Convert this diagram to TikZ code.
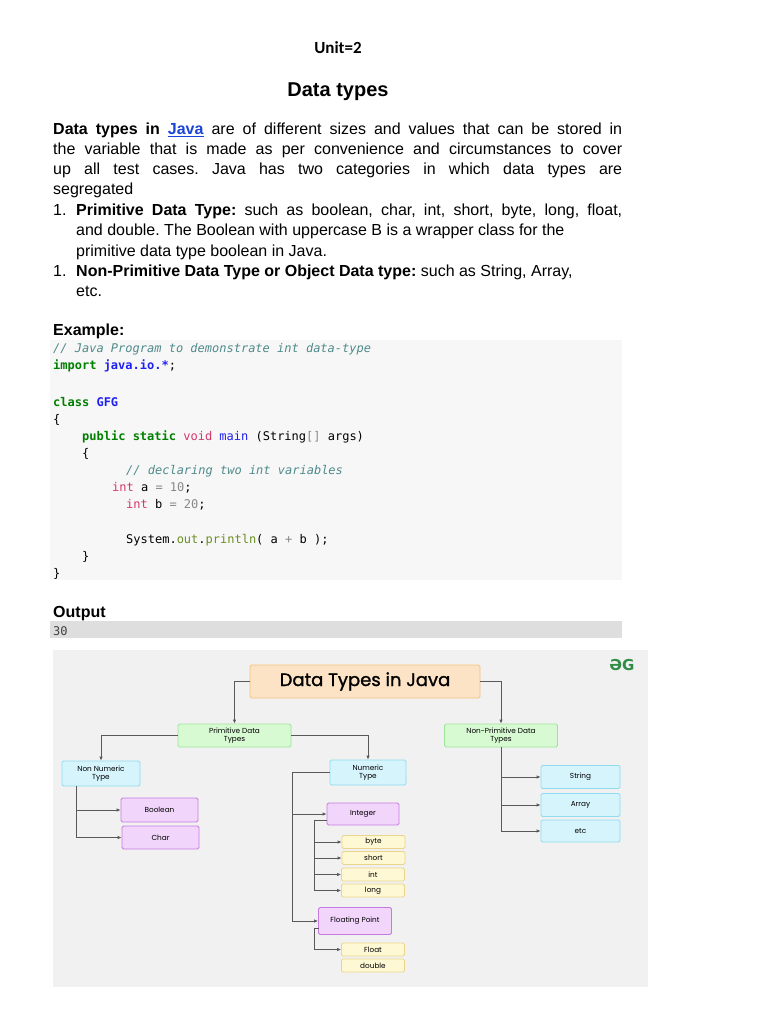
\documentclass[tikz,border=0pt]{standalone}
\usepackage{fontspec}
\setmainfont{Liberation Sans}
\setmonofont{DejaVu Sans Mono}
\newfontfamily\carl{Carlito}
\newfontfamily\pop{Poppins}
\newfontfamily\popt[FakeBold=1.3]{Poppins}
\newfontfamily\djv{DejaVu Sans}
\usetikzlibrary{arrows.meta}
\frenchspacing
\definecolor{cgreen}{HTML}{008000}
\definecolor{cred}{HTML}{D2386C}
\definecolor{cblue}{HTML}{2020F0}
\definecolor{ccom}{HTML}{4F8A8B}
\definecolor{colv}{HTML}{6B8E23}
\definecolor{cnum}{HTML}{888888}
\definecolor{linkblue}{HTML}{1A45D8}
\definecolor{orF}{HTML}{FDE3C6}\definecolor{orD}{HTML}{F4C17E}
\definecolor{grF}{HTML}{D7FAD2}\definecolor{grD}{HTML}{9EE49B}
\definecolor{cyF}{HTML}{D6F4FC}\definecolor{cyD}{HTML}{8FDCF0}
\definecolor{puF}{HTML}{F2D5FB}\definecolor{puD}{HTML}{C57CE0}
\definecolor{yeF}{HTML}{FEF8D4}\definecolor{yeD}{HTML}{EBD58A}
\definecolor{gfg}{HTML}{2F8D46}
\tikzset{
 txt/.style={anchor=base west, inner sep=0pt, font=\fontsize{16}{19}\selectfont},
 code/.style={anchor=base west, inner sep=0pt, font=\fontsize{12}{14}\ttfamily},
 bx/.style={draw, rounded corners=1.5pt, line width=0.8pt, align=center, inner sep=0pt, font=\pop\fontsize{7.3}{8.5}\selectfont},
 obox/.style={bx, fill=orF, draw=orD},
 gbox/.style={bx, fill=grF, draw=grD},
 cbox/.style={bx, fill=cyF, draw=cyD},
 pbox/.style={bx, fill=puF, draw=puD},
 ybox/.style={bx, fill=yeF, draw=yeD},
 conn/.style={draw=black!65, line width=0.8pt},
 arr/.style={conn, -{Latex[length=4pt,width=3.5pt]}},
}
\begin{document}
\begin{tikzpicture}[x=1pt,y=-1pt]
\useasboundingbox[fill=white] (0,0) rectangle (768,1024);
% headings
\node[anchor=base, inner sep=0pt, font=\carl\bfseries\fontsize{17}{20}\selectfont] (unit) at (338,54) {Unit=2};
\node[anchor=base, inner sep=0pt, font=\fontsize{20}{24}\selectfont\bfseries] (dt) at (338,97) {Data types};
% paragraph
\node[txt] (l1) at (53,135) {\makebox[569pt][s]{\textbf{Data types in} \textcolor{linkblue}{\underline{\textbf{Java}}} are of different sizes and values that can be stored in}};
\node[txt] (l2) at (53,155) {\makebox[569pt][s]{the variable that is made as per convenience and circumstances to cover}};
\node[txt] (l3) at (53,175) {\makebox[569pt][s]{up all test cases. Java has two categories in which data types are}};
\node[txt] (l4) at (53,195) {segregated};
\node[txt] (n1) at (53,216) {1.};
\node[txt] (l5) at (76,216) {\makebox[546pt][s]{\textbf{Primitive Data Type:} such as boolean, char, int, short, byte, long, float,}};
\node[txt] (l6) at (76,236) {and double. The Boolean with uppercase B is a wrapper class for the};
\node[txt] (l7) at (76,256) {primitive data type boolean in Java.};
\node[txt] (n2) at (53,276) {1.};
\node[txt] (l8) at (76,276) {\textbf{Non-Primitive Data Type or Object Data type:} such as String, Array,};
\node[txt] (l9) at (76,296) {etc.};
\node[txt, font=\fontsize{16}{19}\selectfont\bfseries] (ex) at (53,335) {Example:};
% code block
\fill[black!3] (50,340) rectangle (622,580);
\node[code] (c1) at (53,352) {\textcolor{ccom}{\itshape // Java Program to demonstrate int data-type}};
\node[code] (c2) at (53,369) {\textcolor{cgreen}{\bfseries import} \textcolor{cblue}{\bfseries java.io.*};};
\node[code] (c3) at (53,406) {\textcolor{cgreen}{\bfseries class} \textcolor{cblue}{\bfseries GFG}};
\node[code] (c4) at (53,423) {\{};
\node[code] (c5) at (82,440) {\textcolor{cgreen}{\bfseries public static} \textcolor{cred}{void} \textcolor{cblue}{main} (String\textcolor{cnum}{[]} args)};
\node[code] (c6) at (82,457) {\{};
\node[code] (c7) at (126,474) {\textcolor{ccom}{\itshape // declaring two int variables}};
\node[code] (c8) at (112,491) {\textcolor{cred}{int} a \textcolor{cnum}{=} \textcolor{cnum}{10};};
\node[code] (c9) at (126,508) {\textcolor{cred}{int} b \textcolor{cnum}{=} \textcolor{cnum}{20};};
\node[code] (c10) at (126,543) {System.\textcolor{colv}{out}.\textcolor{colv}{println}( a \textcolor{cnum}{+} b );};
\node[code] (c11) at (82,560) {\}};
\node[code] (c12) at (53,577) {\}};
% output
\node[txt, font=\fontsize{16}{19}\selectfont\bfseries] (out) at (53,617) {Output};
\fill[black!13] (50,621) rectangle (622,638);
\node[code, text=black!75] (o30) at (53,635) {30};
% diagram
\fill[black!5.5] (53,650) rectangle (648,987);
\node[obox, minimum width=230pt, minimum height=33pt, font=\popt\fontsize{18}{20}\selectfont] (title) at (365,681.5) {Data Types in Java};
\node[anchor=center, inner sep=0pt, text=gfg, font=\djv\bfseries\fontsize{15}{16}\selectfont] (logo) at (622,665) {ƏG};
\node[gbox, minimum width=113pt, minimum height=23pt] (prim) at (234.5,735.5) {Primitive Data\\Types};
\node[gbox, minimum width=113pt, minimum height=23pt] (np) at (501,735.5) {Non-Primitive Data\\Types};
\node[cbox, minimum width=78pt, minimum height=25pt] (nn) at (101,773.5) {Non Numeric\\Type};
\node[cbox, minimum width=76pt, minimum height=25pt] (num) at (368,772.5) {Numeric\\Type};
\node[pbox, minimum width=77pt, minimum height=24pt] (bool) at (159.5,810) {Boolean};
\node[pbox, minimum width=77pt, minimum height=23pt] (char) at (160.5,837.5) {Char};
\node[pbox, minimum width=72pt, minimum height=22pt] (intg) at (363,814) {Integer};
\node[ybox, minimum width=63pt, minimum height=13pt] (byte) at (373.5,842) {byte};
\node[ybox, minimum width=63pt, minimum height=13pt] (short) at (373.5,858) {short};
\node[ybox, minimum width=63pt, minimum height=13pt] (int) at (373,874.5) {int};
\node[ybox, minimum width=63pt, minimum height=13pt] (long) at (373,890.5) {long};
\node[pbox, minimum width=73pt, minimum height=27pt] (fp) at (355,921) {Floating Point};
\node[ybox, minimum width=63pt, minimum height=13pt] (float) at (373,949.5) {Float};
\node[ybox, minimum width=63pt, minimum height=13pt] (double) at (373,965.5) {double};
\node[cbox, minimum width=79pt, minimum height=23pt] (str) at (580.5,777) {String};
\node[cbox, minimum width=79pt, minimum height=23pt] (arr) at (580.5,805) {Array};
\node[cbox, minimum width=79pt, minimum height=22pt] (etc) at (580.5,831) {etc};
% connectors
\draw[arr] (title.west) -| (prim.north);
\draw[arr] (title.east) -| (np.north);
\draw[arr] (prim.west) -| (nn.north);
\draw[arr] (prim.east) -| (num.north);
% non-primitive
\draw[conn] (np.south) -- (np.south |- etc.west);
\draw[arr] (np.south |- str.west) -- (str.west);
\draw[arr] (np.south |- arr.west) -- (arr.west);
\draw[arr] (np.south |- etc.west) -- (etc.west);
% non numeric
\coordinate (nnt) at (76,786);
\draw[conn] (nnt) -- (nnt |- char.west);
\draw[arr] (nnt |- bool.west) -- (bool.west);
\draw[arr] (nnt |- char.west) -- (char.west);
% numeric
\coordinate (numt) at (292,772.5);
\draw[conn] (num.west) -- (numt) -- (numt |- fp.west);
\draw[arr] (numt |- intg.west) -- (intg.west);
\draw[arr] (numt |- fp.west) -- (fp.west);
% integer
\coordinate (it1) at (327,820);
\coordinate (it2) at (314,820);
\draw[conn] (it1) -- (it2) -- (it2 |- long.west);
\draw[arr] (it2 |- byte.west) -- (byte.west);
\draw[arr] (it2 |- short.west) -- (short.west);
\draw[arr] (it2 |- int.west) -- (int.west);
\draw[arr] (it2 |- long.west) -- (long.west);
% floating point
\coordinate (fp1) at (318.5,928);
\coordinate (fp2) at (314,928);
\draw[conn] (fp1) -- (fp2) -- (fp2 |- float.west);
\draw[arr] (fp2 |- float.west) -- (float.west);
\end{tikzpicture}
\end{document}
